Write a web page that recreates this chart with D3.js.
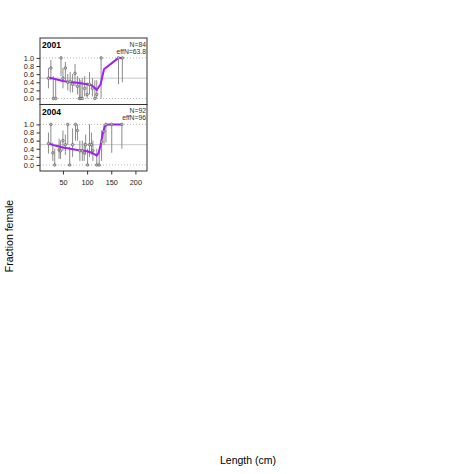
<!DOCTYPE html>
<html><head><meta charset="utf-8">
<script src="https://cdn.jsdelivr.net/npm/d3@7"></script>
<style>body{margin:0;background:#fff;} svg{display:block;font-family:"Liberation Sans",Arial,sans-serif;}</style>
</head><body>
<script>
// ---- data ----
const years = ["2001", "2004"];
const nLabels = ["N=84", "N=92"];
const effNLabels = ["effN=63.8", "effN=96"];

const len2001 = [20, 25, 30, 35, 46, 50, 55, 60, 65, 70, 75, 80, 84, 87, 90, 95, 100, 105, 111, 116, 120, 129, 165, 173];
const obs2001 = [0.5, 0.75, 0, 0, 1.0, 0.5, 0.75, 0.4, 0.42, 0.35, 0.62, 0.3, 0, 0, 0, 0.25, 0.1, 0.35, 0.25, 0, 0.1, 1.0, 1.0, 1.0];
const lo2001  = [0.25, 0.45, 0, 0, 0.55, 0.25, 0.45, 0.2, 0.15, 0.15, 0.3, 0.1, 0, 0, 0, 0.05, 0, 0.1, 0.05, 0, 0, 0, 0.35, 0.4];
const hi2001  = [0.75, 0.95, 0.55, 0.5, 1.0, 0.75, 0.9, 0.6, 0.65, 0.6, 0.85, 0.55, 0.5, 0.45, 0.5, 0.55, 0.4, 0.65, 0.5, 0.45, 0.45, 1.0, 1.0, 1.0];
const expLen2001 = [20, 30, 40, 50, 60, 70, 80, 90, 100, 110, 115, 120, 128, 135, 165, 175];
const exp2001    = [0.51, 0.49, 0.46, 0.43, 0.41, 0.40, 0.39, 0.37, 0.35, 0.32, 0.27, 0.21, 0.35, 0.72, 1.0, 1.0];

const len2004 = [20, 25, 29, 33, 42, 45, 50, 55, 60, 64, 70, 76, 80, 85, 90, 94, 97, 101, 105, 109, 112, 120, 125, 130, 135, 139, 151, 172];
const obs2004 = [0.53, 1.0, 0.3, 0, 0.37, 0.35, 0.6, 0.5, 1.0, 0, 0.5, 1.0, 0.85, 0.35, 0.35, 0.3, 0.5, 0, 0.5, 0.5, 0.35, 0, 0, 0.57, 0.83, 1.0, 1.0, 1.0];
const lo2004  = [0.28, 0.5, 0.1, 0, 0.15, 0.15, 0.35, 0.25, 0.5, 0, 0.2, 0.6, 0.6, 0.1, 0.1, 0.1, 0.25, 0, 0.2, 0.25, 0.1, 0, 0, 0.1, 0.5, 0.55, 0.3, 0.4];
const hi2004  = [0.8, 1.0, 0.55, 0.4, 0.65, 0.6, 0.85, 0.75, 1.0, 0.45, 0.9, 1.0, 1.0, 0.6, 0.6, 0.55, 0.75, 0.4, 1.0, 0.8, 0.6, 0.4, 0.35, 0.85, 1.0, 1.0, 1.0, 1.0];
const expLen2004 = [20, 30, 40, 50, 60, 70, 80, 90, 100, 110, 116, 120, 124, 128, 132, 136, 140, 150, 160, 172];
const exp2004    = [0.53, 0.49, 0.46, 0.43, 0.41, 0.39, 0.37, 0.36, 0.34, 0.30, 0.26, 0.23, 0.30, 0.50, 0.75, 0.93, 0.99, 1.0, 1.0, 1.0];

const xTicks = [50, 100, 150, 200];
const yTicks = [0, 0.2, 0.4, 0.6, 0.8, 1.0];
const xLabel = "Length (cm)";
const yLabel = "Fraction female";

// ---- drawing ----
const W = 474, H = 474;
const svg = d3.select("body").append("svg").attr("width", W).attr("height", H);

const left = 40, right = 147, panelH = 66.5, tops = [38, 104.5];
const x = d3.scaleLinear().domain([2.5, 224]).range([left, right]);

const panels = [
  {len: len2001, obs: obs2001, lo: lo2001, hi: hi2001, eL: expLen2001, e: exp2001},
  {len: len2004, obs: obs2004, lo: lo2004, hi: hi2004, eL: expLen2004, e: exp2004}
];

panels.forEach((p, i) => {
  const top = tops[i];
  const y = d3.scaleLinear().domain([-0.148, 1.49]).range([top + panelH, top]);
  const g = svg.append("g");

  g.selectAll("line.ref").data([0, 1]).join("line")
    .attr("x1", left).attr("x2", right)
    .attr("y1", d => y(d)).attr("y2", d => y(d))
    .attr("stroke", "#aaaaaa").attr("stroke-width", 0.8).attr("stroke-dasharray", "1,2");
  g.append("line").attr("x1", left).attr("x2", right)
    .attr("y1", y(0.5)).attr("y2", y(0.5))
    .attr("stroke", "#c8c8c8").attr("stroke-width", 1);

  const idx = d3.range(p.len.length);
  g.selectAll("line.ci").data(idx).join("line")
    .attr("x1", k => x(p.len[k])).attr("x2", k => x(p.len[k]))
    .attr("y1", k => y(p.lo[k])).attr("y2", k => y(p.hi[k]))
    .attr("stroke", "#8c8c8c").attr("stroke-width", 1);

  const line = d3.line().x(k => x(p.eL[k])).y(k => y(p.e[k]));
  g.append("path").attr("d", line(d3.range(p.eL.length)))
    .attr("fill", "none").attr("stroke", "#a020f0").attr("stroke-width", 2)
    .attr("stroke-linejoin", "round");

  g.selectAll("circle.obs").data(idx).join("circle")
    .attr("cx", k => x(p.len[k])).attr("cy", k => y(p.obs[k])).attr("r", 1.3)
    .attr("fill", "#bdbdbd").attr("stroke", "#555").attr("stroke-width", 0.6);

  g.append("rect").attr("x", left).attr("y", top).attr("width", right - left).attr("height", panelH)
    .attr("fill", "none").attr("stroke", "#333").attr("stroke-width", 1);

  const ya = g.append("g").attr("transform", `translate(${left},0)`)
    .call(d3.axisLeft(y).tickValues(yTicks).tickFormat(d3.format(".1f")).tickSize(3.5).tickPadding(2.5));
  ya.select(".domain").remove();
  ya.selectAll("line").attr("stroke", "#333");
  ya.selectAll("text").attr("font-size", 7.3).attr("fill", "#222").attr("font-family", "Liberation Sans, Arial, sans-serif");

  g.append("text").attr("x", left + 2).attr("y", top + 10).text(years[i])
    .attr("font-size", 8.5).attr("font-weight", "bold").attr("fill", "#000");
  g.append("text").attr("x", right - 1).attr("y", top + 8.5).text(nLabels[i])
    .attr("font-size", 6.8).attr("text-anchor", "end").attr("fill", "#333");
  g.append("text").attr("x", right - 1).attr("y", top + 15.5).text(effNLabels[i])
    .attr("font-size", 6.8).attr("text-anchor", "end").attr("fill", "#333");
});

const xa = svg.append("g").attr("transform", `translate(0,${tops[1] + panelH})`)
  .call(d3.axisBottom(x).tickValues(xTicks).tickSize(3.5).tickPadding(5));
xa.select(".domain").remove();
xa.selectAll("line").attr("stroke", "#333");
xa.selectAll("text").attr("font-size", 7.3).attr("fill", "#222").attr("font-family", "Liberation Sans, Arial, sans-serif");

svg.append("text").attr("x", 248).attr("y", 464).attr("text-anchor", "middle")
  .attr("font-size", 10.5).attr("fill", "#000").text(xLabel);
svg.append("text").attr("transform", "translate(13,236) rotate(-90)").attr("text-anchor", "middle")
  .attr("font-size", 10.5).attr("fill", "#000").text(yLabel);
</script>
</body></html>
